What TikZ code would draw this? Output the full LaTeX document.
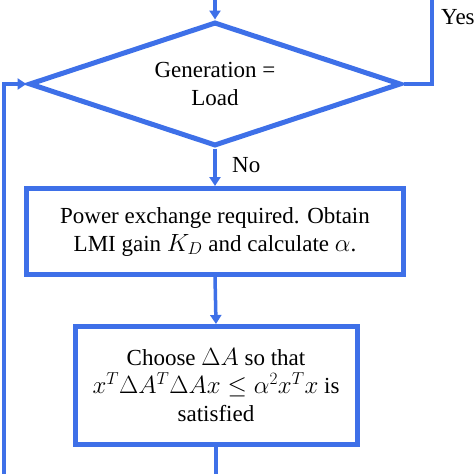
\documentclass[tikz,border=0pt]{standalone}
\usepackage{fontspec}
\setmainfont{Liberation Serif}
\usetikzlibrary{shapes.geometric,arrows.meta}
\definecolor{fcblue}{RGB}{62,112,232}
\tikzset{
  shapeline/.style={draw=fcblue, line width=5pt, align=center, font=\fontsize{23}{28}\selectfont},
  decision/.style={shapeline, diamond, aspect=3, minimum width=372pt, minimum height=124pt, inner sep=0pt},
  procbox/.style={shapeline, rectangle, inner sep=0pt},
  conn/.style={draw=fcblue, line width=3.5pt, -{Triangle[length=9pt,width=11pt]}},
  plainconn/.style={draw=fcblue, line width=3.5pt},
  lbl/.style={font=\fontsize{23}{28}\selectfont, inner sep=0pt, anchor=west}
}
\begin{document}
\begin{tikzpicture}[x=1pt,y=-1pt]
\useasboundingbox (0,0) rectangle (474,474);
\node[decision] (dec) at (215,84) {Generation =\\Load};
\node[procbox, minimum width=377pt, minimum height=86pt] (box1) at (215,231.5)
  {Power exchange required. Obtain\\LMI gain $K_D$ and calculate $\alpha$.};
\node[procbox, minimum width=282pt, minimum height=118pt] (box2) at (216,385.5)
  {Choose $\Delta A$ so that\\$x^T\Delta A^T\Delta A x\le\alpha^2x^Tx$ is\\satisfied};
\coordinate (topin) at (215,-5);
\coordinate (yescorner) at (432,84);
\coordinate (yestop) at (432,-5);
\coordinate (botend) at (216,480);
\coordinate (loopbot) at (4,480);
\coordinate (loopcorner) at (4,84);
\node[lbl] (yes) at (441,17) {Yes};
\node[lbl] (no) at (232,165) {No};
\draw[conn] (topin) -- (dec.north);
\draw[plainconn] (dec.east) -- (yescorner) -- (yestop);
\draw[conn] (dec.south) -- (box1.north);
\draw[conn] (box1.south) -- (box2.north);
\draw[plainconn] (box2.south) -- (botend);
\draw[conn] (loopbot) -- (loopcorner) -- (dec.west);
\end{tikzpicture}
\end{document}
